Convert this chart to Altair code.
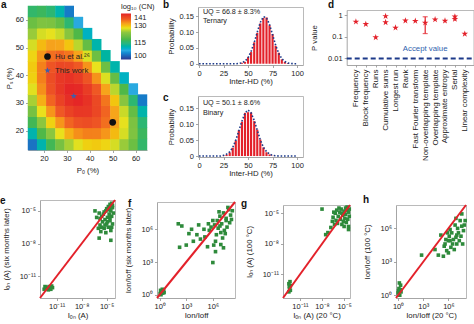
import altair as alt
import pandas as pd

W, H = 474, 324
FONT = "Liberation Sans"
RED = "#e3212a"
GREEN = "#2e8a3b"
NAVY = "#1d3a8a"
BLUE_TXT = "#2f5fae"
AXC = "#8f8f8f"
FRAME = "#a8a8a8"
TXT = "#222222"
LAB = 7.5
TIT = 7.8
STAR = ("M0,-1L0.2245,-0.309L0.951,-0.309L0.363,0.118L0.588,0.809L0,0.382"
        "L-0.588,0.809L-0.363,0.118L-0.951,-0.309L-0.2245,-0.309Z")

# ---------------- (a) log10(CN) map, read on a 4 % grid ----------------
po_centers = [15, 19, 23, 27, 31, 35, 39, 43, 47, 51, 55, 59, 63]
ps_centers = [15, 19, 23, 27, 31, 35, 39, 43, 47, 51, 55, 59, 63]
N = None
log_cn = [
    [104.3, 111.5, 117.3, 121.9, 125.3, 127.7, 129.1, 129.5, 128.8, 127.2, 124.6, 120.9, 116.0],
    [111.5, 118.4, 123.9, 128.1, 131.2, 133.1, 134.0, 133.9, 132.7, 130.5, 127.2, 122.7, 116.8],
    [117.3, 123.9, 129.0, 132.8, 135.5, 137.0, 137.4, 136.7, 134.9, 132.0, 127.9, 122.4, 115.4],
    [121.9, 128.1, 132.8, 136.2, 138.5, 139.4, 139.3, 138.0, 135.5, 131.8, 126.7, 120.1, 111.6],
    [125.3, 131.2, 135.5, 138.5, 140.1, 140.6, 139.8, 137.8, 134.6, 129.8, 123.6, 115.5, 104.8],
    [127.7, 133.1, 137.0, 139.4, 140.6, 140.4, 139.0, 136.2, 131.9, 126.1, 118.3, 108.0, N],
    [129.1, 134.0, 137.4, 139.3, 139.8, 139.0, 136.7, 132.9, 127.5, 120.2, 110.3, N, N],
    [129.5, 133.9, 136.7, 138.0, 137.8, 136.2, 132.9, 128.0, 121.1, 111.6, N, N, N],
    [128.8, 132.7, 134.9, 135.5, 134.6, 131.9, 127.5, 121.1, 112.1, N, N, N, N],
    [127.2, 130.5, 132.0, 131.8, 129.8, 126.1, 120.2, 111.6, N, N, N, N, N],
    [124.6, 127.2, 127.9, 126.7, 123.6, 118.3, 110.3, N, N, N, N, N, N],
    [120.9, 122.7, 122.4, 120.1, 115.5, 108.0, N, N, N, N, N, N, N],
    [116.0, 116.8, 115.4, 111.6, 104.8, N, N, N, N, N, N, N, N],
]
cn_ticks = [100, 115, 130, 141]
marker_names = ["Hu et al.²⁶", "This work"]
marker_po = [50, 33]
marker_ps = [23, 32.5]

# ---------------- (b), (c) inter-HD histograms ----------------
hd_bins = [0.0, 3.1, 6.3, 9.4, 12.5, 15.6, 18.8, 21.9, 25.0, 28.1, 31.3, 34.4, 37.5,
           40.6, 43.8, 46.9, 50.0, 53.1, 56.3, 59.4, 62.5, 65.6, 68.8, 71.9, 75.0,
           78.1, 81.3, 84.4, 87.5, 90.6, 93.8, 96.9, 100.0]
b_hist = [0, 0, 0, 0, 0, 0, 0, 0, 0, 0, 0, 0, 0, 0,
          0.003, 0.006, 0.021, 0.037, 0.068, 0.098, 0.128, 0.145, 0.147, 0.122,
          0.094, 0.057, 0.035, 0.014, 0.006, 0.002, 0, 0, 0]
b_fit = [0, 0, 0, 0, 0, 0, 0, 0, 0, 0, 0, 0, 0,
         0.001, 0.003, 0.008, 0.019, 0.039, 0.067, 0.100, 0.131, 0.149, 0.146, 0.124,
         0.092, 0.059, 0.033, 0.016, 0.007, 0.002, 0.001, 0, 0]
c_hist = [0, 0, 0, 0, 0, 0, 0, 0,
          0.001, 0.004, 0.011, 0.026, 0.049, 0.081, 0.108, 0.136, 0.138, 0.137,
          0.110, 0.083, 0.052, 0.027, 0.012, 0.005, 0.001,
          0, 0, 0, 0, 0, 0, 0, 0]
c_fit = [0, 0, 0, 0, 0, 0, 0, 0,
         0.002, 0.006, 0.013, 0.027, 0.050, 0.079, 0.110, 0.135, 0.145, 0.136,
         0.112, 0.081, 0.051, 0.028, 0.014, 0.006, 0.002, 0.001,
         0, 0, 0, 0, 0, 0, 0]

# ---------------- (d) NIST tests ----------------
nist_tests = ["Frequency", "Block frequency", "Runs", "Cumulative sums", "Longest run",
              "Rank", "Fast Fourier transform", "Non-overlapping template",
              "Overlapping template", "Approximate entropy", "Serial", "Linear complexity"]
nist_star_idx = [0, 1, 2, 3, 3, 4, 5, 6, 7, 8, 9, 10, 10, 11]
nist_star_p = [0.49, 0.38, 0.093, 0.88, 0.46, 0.26, 0.55, 0.53, 0.44, 0.62, 0.54, 0.84, 0.65, 0.135]
nist_err_idx = [7]
nist_err_lo = [0.14]
nist_err_hi = [0.83]
accept_p = [0.01]

# ---------------- (e)-(h) scatter, log10 exponents ----------------
e_x = [-12.5, -12.3, -12.1, -11.9, -11.7, -11.5, -12.4, -12.0, -11.6, -12.2,
       -6.4, -5.9, -5.6, -5.3, -5.0, -4.8, -4.6, -4.4, -4.3, -4.5,
       -4.7, -4.9, -5.2, -5.5, -5.8, -5.0, -4.6, -4.4, -4.2, -4.8,
       -5.3, -5.7, -5.1, -4.5, -4.3, -6.0, -5.9, -4.5, -5.4, -5.1,
       -4.7, -4.6, -5.6, -4.9, -4.4, -6.2, -5.2, -4.3, -4.5, -5.8]
e_y = [-12.2, -12.0, -12.15, -11.95, -12.2, -12.05, -11.95, -12.25, -11.9, -12.1,
       -5.0, -5.2, -5.5, -5.1, -4.8, -4.6, -4.4, -4.3, -4.7, -5.0,
       -5.3, -5.6, -5.8, -6.0, -6.3, -6.2, -5.9, -5.5, -5.2, -6.5,
       -6.6, -6.9, -7.0, -6.8, -6.2, -6.6, -7.5, -7.7, -5.3, -5.0,
       -4.9, -5.6, -6.5, -6.0, -6.5, -5.6, -6.3, -4.5, -4.7, -5.7]
f_x = [0.05, 0.2, 0.35, 0.1, 0.45, 0.3, 0.15, 0.5,
       6.5, 6.8, 7.0, 7.2, 7.5, 7.8, 8.0, 7.6, 7.3, 6.9,
       6.6, 6.2, 6.0, 6.4, 7.1, 7.4, 7.9, 8.1, 6.7, 7.7,
       8.2, 5.8, 5.6, 6.3, 6.9, 7.2, 5.4, 6.1, 6.3, 6.0,
       5.1, 4.6, 3.8, 3.0, 2.25, 4.2, 4.4, 3.6, 3.3, 2.5,
       2.1, 5.5, 5.0, 7.5, 6.8]
f_y = [0.1, 0.3, 0.15, 0.4, 0.35, 0.5, 0.0, 0.2,
       6.8, 7.2, 6.5, 7.5, 7.0, 7.8, 7.3, 6.2, 5.9, 5.7,
       6.1, 6.4, 6.8, 5.5, 5.2, 5.6, 6.6, 6.9, 7.6, 8.0,
       7.7, 6.2, 5.9, 4.9, 4.6, 4.3, 4.4, 4.55, 3.95, 2.95,
       5.3, 5.1, 4.9, 4.55, 4.35, 5.5, 6.4, 6.0, 5.6, 6.3,
       6.5, 6.5, 6.0, 6.8, 6.3]
g_x = [-12.5, -12.4, -12.3, -12.5, -12.35, -12.45, -12.3,
       -8.0, -7.2, -7.5, -6.8, -6.5, -6.2, -6.0, -5.8, -5.6, -5.4,
       -5.2, -5.0, -4.8, -4.6, -4.4, -4.3, -4.5, -4.7, -4.9, -5.1,
       -5.5, -5.9, -6.3, -6.6, -4.4, -4.4, -5.3, -5.7, -6.1, -4.6,
       -5.0, -4.8, -5.3, -6.4, -4.3]
g_y = [-12.7, -12.4, -12.1, -11.9, -11.7, -12.2, -12.55,
       -4.6, -6.9, -7.1, -6.4, -5.4, -5.0, -4.7, -5.3, -4.9, -4.6,
       -5.2, -4.8, -5.1, -4.7, -4.9, -5.3, -5.6, -5.9, -5.5, -5.8,
       -5.6, -6.0, -6.1, -5.8, -6.3, -6.6, -6.1, -4.5, -5.7, -4.4,
       -6.3, -4.5, -5.0, -4.9, -4.6]
h_x = [0.0, 0.1, 0.2, 0.3, 0.05, 0.35, 0.15, 0.25,
       2.8, 4.4, 4.8, 5.4, 5.5, 6.0, 5.1, 6.2, 6.8, 7.4,
       7.6, 8.0, 6.6, 7.0, 5.8, 6.3, 6.5, 6.9, 7.2, 7.5,
       7.8, 6.1, 5.7, 6.4, 7.1, 7.3, 6.7, 7.9, 6.0, 5.6,
       7.6, 6.9, 7.7, 6.2, 5.9, 7.0]
h_y = [0.2, 0.6, 0.0, 0.9, 0.4, 0.3, 1.1, 0.5,
       3.6, 4.1, 3.6, 3.5, 4.4, 4.9, 5.4, 5.9, 6.3, 6.7,
       6.2, 6.7, 5.0, 4.6, 4.0, 4.3, 4.6, 5.2, 5.6, 5.3,
       5.8, 5.3, 5.0, 5.6, 6.0, 4.9, 4.1, 6.3, 3.8, 4.6,
       7.3, 6.9, 4.6, 4.9, 5.6, 5.4]

# ---------------- helpers ----------------
def lin(domain, rng):
    return alt.Scale(type="linear", domain=domain, range=rng, nice=False, zero=False)


def logsc(domain, rng):
    return alt.Scale(type="log", domain=domain, range=rng, nice=False)


def ax_b(y, **kw):
    return alt.Axis(orient="bottom", offset=y - H, **kw)


def ax_l(x, **kw):
    return alt.Axis(orient="left", offset=-x, **kw)


def ax_t(y):
    return alt.Axis(orient="top", offset=-y, labels=False, ticks=False, title=None,
                    domainColor=FRAME)


def ax_r(x):
    return alt.Axis(orient="right", offset=x - W, labels=False, ticks=False, title=None,
                    domainColor=FRAME)


def letter(t, x, y):
    return alt.Chart(pd.DataFrame({"t": [t]})).mark_text(
        align="left", baseline="top", fontSize=10, fontWeight="bold", font=FONT, color="#111"
    ).encode(text="t:N", x=alt.value(x), y=alt.value(y))


layers = []

# ---------------- panel a ----------------
cells = []
for j, ps in enumerate(ps_centers):
    for i, po in enumerate(po_centers):
        v = log_cn[j][i]
        if v is None:
            continue
        cells.append({"x0": po - 2.1, "x1": po + 2.1, "y0": ps - 2.1, "y1": ps + 2.1, "cn": v})
heat_df = pd.DataFrame(cells)
xa = lin([13, 65], [28, 147])
ya = lin([13, 65], [150, 6])
cn_stops = [100, 104, 108, 113, 118, 124, 128, 132, 136, 141]
cn_cols = ["#2b3990", "#1c6fc0", "#29a9e0", "#2ab48f", "#4bb749", "#8cc63f",
           "#e9e21d", "#f6a21c", "#ef5a24", "#e41f26"]
layers.append(alt.Chart(heat_df).mark_rect().encode(
    x=alt.X("x0:Q", scale=xa, axis=ax_b(150, values=[20, 30, 40, 50, 60], title="Pₒ (%)",
                                         titlePadding=4)),
    x2="x1:Q",
    y=alt.Y("y0:Q", scale=ya, axis=ax_l(28, values=[20, 30, 40, 50, 60], title="Pₛ (%)",
                                         titlePadding=2)),
    y2="y1:Q",
    color=alt.Color("cn:Q", scale=alt.Scale(domain=cn_stops, range=cn_cols, clamp=True),
                    legend=alt.Legend(orient="none", legendX=121, legendY=3, title="log₁₀ (CN)",
                                      direction="vertical", gradientLength=46,
                                      gradientThickness=10, values=cn_ticks,
                                      labelFontSize=LAB, titleFontSize=LAB,
                                      titleFontWeight="normal", titlePadding=3, padding=0,
                                      labelOffset=3)),
))
mk_df = pd.DataFrame({"who": marker_names, "po": marker_po, "ps": marker_ps})
mk_legend = alt.Legend(orient="none", legendX=43, legendY=52, title=None, labelFontSize=TIT,
                       symbolSize=45, rowPadding=1, padding=0, labelOffset=3)
layers.append(alt.Chart(mk_df).mark_point(filled=True, size=45, opacity=1).encode(
    x=alt.X("po:Q", scale=xa, axis=None),
    y=alt.Y("ps:Q", scale=ya, axis=None),
    shape=alt.Shape("who:N", scale=alt.Scale(domain=marker_names, range=["circle", STAR]),
                    legend=mk_legend),
    fill=alt.Fill("who:N", scale=alt.Scale(domain=marker_names, range=["#111111", "#3a5fb0"]),
                  legend=mk_legend),
))


# ---------------- panels b, c ----------------
def hist_panel(hist, fit, ydom, yr, lines, ty):
    xs = lin([-1, 106], [198, 303])
    ys = lin(ydom, yr)
    dfh = pd.DataFrame({"c": hd_bins, "p": hist})
    dfh = dfh[dfh["p"] > 0].reset_index(drop=True)
    dfh["l"] = dfh["c"] - 1.1
    dfh["r"] = dfh["c"] + 1.1
    dfh["z"] = 0.0
    out = []
    out.append(alt.Chart(dfh).mark_rect(color=RED).encode(
        x=alt.X("l:Q", scale=xs, axis=ax_b(yr[0], values=[0, 25, 50, 75, 100],
                                            title="Inter-HD (%)", titlePadding=0.5)),
        x2="r:Q",
        y=alt.Y("p:Q", scale=ys, axis=ax_l(198, values=[0, 0.05, 0.1, 0.15],
                                            labelExpr="datum.value == 0 ? '0' : format(datum.value, '.2f')",
                                            title="Probability", titlePadding=3.5)),
        y2="z:Q",
    ))
    dff = pd.DataFrame({"c": hd_bins, "p": fit})
    out.append(alt.Chart(dff).mark_line(color=NAVY, strokeWidth=1.6, strokeDash=[1.6, 1.8]).encode(
        x=alt.X("c:Q", scale=xs, axis=ax_t(yr[1])),
        y=alt.Y("p:Q", scale=ys, axis=ax_r(303)),
    ))
    dft = pd.DataFrame({"t": lines, "x": [4, 4], "y": ty})
    out.append(alt.Chart(dft).mark_text(align="left", baseline="middle", fontSize=7.2,
                                         font=FONT, color=TXT).encode(
        x=alt.X("x:Q", scale=xs, axis=None),
        y=alt.Y("y:Q", scale=ys, axis=None),
        text="t:N",
    ))
    return out


layers += hist_panel(b_hist, b_fit, [-0.004, 0.18], [65, 7], ["UQ = 66.8 ± 8.3%", "Ternary"],
                     [0.165, 0.137])
layers += hist_panel(c_hist, c_fit, [-0.003, 0.189], [157, 96], ["UQ = 50.1 ± 8.6%", "Binary"],
                     [0.167, 0.136])

# ---------------- panel d (category index on a continuous scale) ----------------
xd = lin([-0.93, 11.93], [346.7, 474])
yd = logsc([0.005, 1.7], [65, 10])
names_js = "[" + ",".join("'" + n + "'" for n in nist_tests) + "]"
err_df = pd.DataFrame({"i": nist_err_idx, "lo": nist_err_lo, "hi": nist_err_hi})
cap_df = pd.DataFrame({"i": nist_err_idx * 2, "v": nist_err_lo + nist_err_hi})
star_df = pd.DataFrame({"i": nist_star_idx, "p": nist_star_p})
layers.append(alt.Chart(err_df).mark_rule(color=RED, strokeWidth=1.2).encode(
    x=alt.X("i:Q", scale=xd, axis=ax_b(65, values=list(range(12)), labelAngle=-90,
                                        labelAlign="right", labelBaseline="middle",
                                        labelExpr=names_js + "[datum.value]", title=None,
                                        labelFontSize=8, tickSize=2, labelPadding=2)),
    y=alt.Y("lo:Q", scale=yd, axis=ax_l(346.7, values=[0.01, 0.1, 1],
                                         labelExpr="datum.value < 0.05 ? '0.01' : (datum.value < 0.5 ? '0.1' : '1')",
                                         title="P value", titlePadding=9)),
    y2="hi:Q",
))
layers.append(alt.Chart(cap_df).mark_tick(color=RED, thickness=1.2, size=5, orient="horizontal").encode(
    x=alt.X("i:Q", scale=xd, axis=None),
    y=alt.Y("v:Q", scale=yd, axis=None),
))
layers.append(alt.Chart(star_df).mark_point(shape=STAR, filled=True, size=48, color=RED,
                                            opacity=1).encode(
    x=alt.X("i:Q", scale=xd, axis=None),
    y=alt.Y("p:Q", scale=yd, axis=None),
))
acc_df = pd.DataFrame({"a": [-0.93], "b": [11.93], "p": accept_p})
layers.append(alt.Chart(acc_df).mark_rule(color=NAVY, strokeWidth=2, strokeDash=[5, 3]).encode(
    x=alt.X("a:Q", scale=xd, axis=ax_t(10)),
    x2="b:Q",
    y=alt.Y("p:Q", scale=yd, axis=ax_r(473.5)),
))
layers.append(alt.Chart(pd.DataFrame({"t": ["Accept value"], "x": [7], "y": [0.027]})).mark_text(
    fontSize=TIT, font=FONT, color=BLUE_TXT, baseline="middle").encode(
    x=alt.X("x:Q", scale=xd, axis=None),
    y=alt.Y("y:Q", scale=yd, axis=None),
    text="t:N",
))

# ---------------- panels e-h ----------------
NEG = "datum.value < 1e-10 ? '10⁻¹¹' : (datum.value < 1e-7 ? '10⁻⁸' : '10⁻⁵')"
POS = "datum.value < 10 ? '10⁰' : (datum.value < 1e4 ? '10³' : '10⁶')"


def scatter(xs, ys, dom, xr, yr, ticks, expr, xtitle, ytitle):
    d0, d1 = 10 ** dom[0], 10 ** dom[1]
    sx = logsc([d0, d1], xr)
    sy = logsc([d0, d1], yr)
    df = pd.DataFrame({"x": [10 ** v for v in xs], "y": [10 ** v for v in ys]})
    pts = alt.Chart(df).mark_square(size=13, color=GREEN, opacity=1).encode(
        x=alt.X("x:Q", scale=sx, axis=ax_b(yr[0], values=ticks, labelExpr=expr, title=xtitle,
                                            titlePadding=1.5)),
        y=alt.Y("y:Q", scale=sy, axis=ax_l(xr[0], values=ticks, labelExpr=expr, title=ytitle,
                                            titlePadding=9)),
    )
    diag = pd.DataFrame({"x": [d0, d1], "y": [d0, d1]})
    line = alt.Chart(diag).mark_line(color=RED, strokeWidth=2).encode(
        x=alt.X("x:Q", scale=sx, axis=ax_t(yr[1])),
        y=alt.Y("y:Q", scale=sy, axis=ax_r(xr[1])),
    )
    return [pts, line]


NEGT = [1e-11, 1e-8, 1e-5]
POST = [1, 1e3, 1e6]
layers += scatter(e_x, e_y, [-13, -4], [40, 115], [298, 200], NEGT, NEG,
                  "Iₒₙ (A)", "Iₒₙ (A) (six months later)")
layers += scatter(f_x, f_y, [-0.3, 8.5], [157, 235], [298, 202], POST, POS,
                  "Ion/Ioff", "Ion/Ioff (six months later)")
layers += scatter(g_x, g_y, [-13.3, -4.2], [283, 350], [298, 205], NEGT, NEG,
                  "Iₒₙ (A) (20 °C)", "Iₒₙ (A) (100 °C)")
layers += scatter(h_x, h_y, [-0.25, 8.1], [396, 466], [298, 205], POST, POS,
                  "Ion/Ioff (20 °C)", "Ion/Ioff (100 °C)")

# ---------------- panel letters ----------------
for t, x, y in [("a", 1, 0), ("b", 163, 0), ("c", 163, 93), ("d", 328, 0),
                ("e", 0, 196), ("f", 128, 199), ("g", 241, 199), ("h", 363, 195)]:
    layers.append(letter(t, x, y))

chart = alt.layer(*layers).resolve_scale(
    x="independent", y="independent"
).resolve_axis(
    x="independent", y="independent"
).properties(
    width=W, height=H, autosize=alt.AutoSizeParams(type="none"), padding=0
).configure_view(stroke=None).configure_axis(
    labelFont=FONT, titleFont=FONT, labelFontSize=LAB, titleFontSize=TIT,
    titleFontWeight="normal", labelColor=TXT, titleColor=TXT, domainColor=AXC,
    tickColor=AXC, domainWidth=0.8, tickWidth=0.8, tickSize=2.5, labelPadding=2,
    grid=False, labelFlush=False, labelOverlap=False
).configure_legend(labelFont=FONT, titleFont=FONT, labelColor=TXT, titleColor=TXT)

chart.save("out.html", embed_options={"renderer": "svg", "actions": False})
